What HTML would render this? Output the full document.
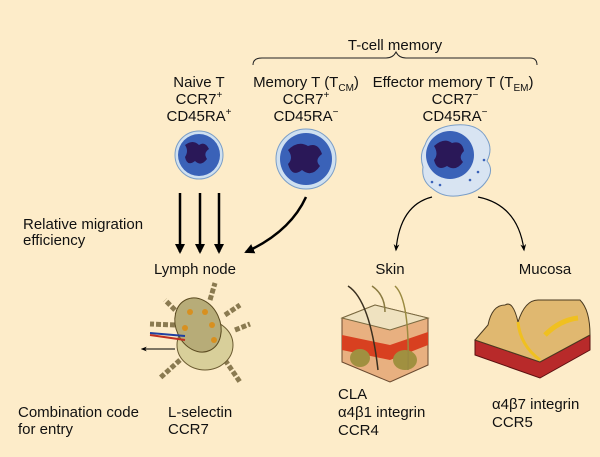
<!DOCTYPE html>
<html><head><meta charset="utf-8"><style>
html,body{margin:0;padding:0;background:#fdecc9;}
svg{display:block;font-family:"Liberation Sans",sans-serif;}
text{font-size:15px;fill:#111;}
</style></head><body>
<svg width="600" height="457" viewBox="0 0 600 457" xmlns="http://www.w3.org/2000/svg">
<defs>
<marker id="ah" viewBox="0 0 10 10" refX="8" refY="5" markerWidth="4" markerHeight="4" orient="auto"><path d="M0,0 L10,5 L0,10 z" fill="#000"/></marker>
<marker id="ah2" viewBox="0 0 10 10" refX="8" refY="5" markerWidth="6" markerHeight="6" orient="auto"><path d="M0,1 L10,5 L0,9 L3,5 z" fill="#000"/></marker>
</defs>
<rect width="600" height="457" fill="#fdecc9"/>
<text x="395" y="50" text-anchor="middle">T-cell memory</text>
<path d="M253,65 Q253,58 262,58 L386,58 Q393,58 396,52 Q399,58 406,58 L530,58 Q537,58 537,65" fill="none" stroke="#222" stroke-width="1"/>
<g text-anchor="middle">
<text x="199" y="87">Naive T</text>
<text x="199" y="104">CCR7<tspan font-size="10" dy="-6">+</tspan></text>
<text x="199" y="121">CD45RA<tspan font-size="10" dy="-6">+</tspan></text>
<text x="306" y="87">Memory T (T<tspan font-size="10" dy="4">CM</tspan><tspan dy="-4">)</tspan></text>
<text x="306" y="104">CCR7<tspan font-size="10" dy="-6">+</tspan></text>
<text x="306" y="121">CD45RA<tspan font-size="10" dy="-6">−</tspan></text>
<text x="453" y="87">Effector memory T (T<tspan font-size="10" dy="4">EM</tspan><tspan dy="-4">)</tspan></text>
<text x="455" y="104">CCR7<tspan font-size="10" dy="-6">−</tspan></text>
<text x="455" y="121">CD45RA<tspan font-size="10" dy="-6">−</tspan></text>
</g>
<!-- cells -->
<circle cx="199" cy="155" r="24" fill="#cfe0f0" stroke="#7a9ec8"/>
<circle cx="199" cy="155" r="21" fill="#3a62b8"/>
<path d="M185,145 q8,-6 14,0 q6,-4 10,4 q-6,4 -2,10 q-6,8 -12,2 q-8,6 -10,-4 q4,-6 0,-12z" fill="#2a1858"/>
<circle cx="306" cy="159" r="30" fill="#cfe0f0" stroke="#7a9ec8"/>
<circle cx="306" cy="159" r="26" fill="#3a62b8"/>
<path d="M288,150 q10,-10 20,-4 q10,-4 14,8 q-8,6 -2,12 q-8,12 -18,4 q-10,8 -14,-6 q6,-6 0,-14z" fill="#2a1858"/>
<path d="M425,145 q6,-18 30,-20 q24,-2 32,14 q6,10 0,22 q8,10 -2,22 q-8,10 -22,12 q-18,4 -30,-6 q-12,-8 -10,-22 q-4,-12 2,-22z" fill="#d8e4f2" stroke="#7a9ec8"/>
<circle cx="450" cy="155" r="24" fill="#3a62b8"/>
<path d="M434,146 q10,-9 18,-3 q10,-3 12,8 q-6,6 -1,11 q-7,10 -16,4 q-10,6 -13,-6 q5,-6 0,-14z" fill="#2a1858"/>
<g fill="#3a62b8"><circle cx="432" cy="182" r="1.3"/><circle cx="440" cy="185" r="1.3"/><circle cx="470" cy="180" r="1.3"/><circle cx="478" cy="172" r="1.3"/><circle cx="484" cy="160" r="1.3"/></g>
<!-- arrows -->
<g stroke="#000" stroke-width="2.5" fill="none">
<line x1="180" y1="193" x2="180" y2="252" marker-end="url(#ah)"/>
<line x1="200" y1="193" x2="200" y2="252" marker-end="url(#ah)"/>
<line x1="219" y1="193" x2="219" y2="252" marker-end="url(#ah)"/>
<path d="M306,197 Q290,232 246,252" marker-end="url(#ah)"/>
</g>
<g stroke="#000" stroke-width="1.2" fill="none">
<path d="M432,197 Q400,205 396,250" marker-end="url(#ah2)"/>
<path d="M478,197 Q518,205 524,250" marker-end="url(#ah2)"/>
</g>
<text x="23" y="229">Relative migration</text>
<text x="23" y="245">efficiency</text>
<text x="195" y="274" text-anchor="middle">Lymph node</text>
<text x="390" y="274" text-anchor="middle">Skin</text>
<text x="545" y="274" text-anchor="middle">Mucosa</text>
<!-- lymph node -->
<g stroke="#8a7a50" stroke-width="5" stroke-dasharray="5 2" fill="none">
<line x1="210" y1="300" x2="215" y2="283"/><line x1="180" y1="315" x2="165" y2="300"/><line x1="175" y1="325" x2="150" y2="324"/>
<line x1="235" y1="330" x2="250" y2="324"/><line x1="180" y1="360" x2="160" y2="378"/><line x1="225" y1="360" x2="240" y2="382"/><line x1="225" y1="315" x2="240" y2="305"/>
</g>
<ellipse cx="205" cy="345" rx="28" ry="25" fill="#d8cf9a" stroke="#6a5a30"/>
<ellipse cx="198" cy="325" rx="22" ry="28" fill="#b7ac78" stroke="#5a4a20" transform="rotate(-25 198 325)"/>
<g fill="#d89020"><circle cx="190" cy="312" r="3"/><circle cx="205" cy="312" r="3"/><circle cx="212" cy="325" r="3"/><circle cx="185" cy="328" r="3"/><circle cx="214" cy="340" r="3"/></g>
<path d="M150,335 L185,340" stroke="#c03020" stroke-width="2"/><path d="M150,333 L185,336" stroke="#2040a0" stroke-width="2"/>
<line x1="175" y1="349" x2="142" y2="349" stroke="#000" stroke-width="1" marker-end="url(#ah2)"/>
<!-- skin -->
<path d="M342,318 L375,305 L428,318 L428,365 L390,382 L342,362z" fill="#e8b080" stroke="#6a4a30"/>
<path d="M342,318 L375,305 L428,318 L390,330z" fill="#efe2c0" stroke="#7a6a40"/>
<path d="M342,335 L390,345 L428,332 L428,345 L390,360 L342,350z" fill="#d84020"/>
<ellipse cx="360" cy="358" rx="10" ry="9" fill="#a09040"/><ellipse cx="405" cy="360" rx="12" ry="10" fill="#a09040"/>
<path d="M348,286 Q370,300 378,370" stroke="#3a3020" stroke-width="1.5" fill="none"/>
<path d="M372,286 Q385,295 385,312" stroke="#8a7a40" stroke-width="1.5" fill="none"/>
<path d="M395,286 Q410,300 408,370" stroke="#9a8a40" stroke-width="1.5" fill="none"/>
<!-- mucosa -->
<path d="M475,340 L475,355 L540,378 L590,350 L590,335 L540,362z" fill="#b82a2a" stroke="#5a1010"/>
<path d="M475,340 L488,325 Q492,305 505,305 Q513,300 518,322 Q525,300 538,300 L580,300 Q590,310 590,335 L540,362z" fill="#e0b870" stroke="#4a3a20"/>
<path d="M545,335 Q560,320 578,318" stroke="#f0c020" stroke-width="5" fill="none"/>
<path d="M518,322 Q520,345 540,360" stroke="#f0c020" stroke-width="3" fill="none"/>
<text x="18" y="417">Combination code</text>
<text x="18" y="434">for entry</text>
<text x="168" y="417">L-selectin</text>
<text x="168" y="434">CCR7</text>
<text x="338" y="399">CLA</text>
<text x="338" y="417">α4β1 integrin</text>
<text x="338" y="435">CCR4</text>
<text x="492" y="409">α4β7 integrin</text>
<text x="492" y="427">CCR5</text>
</svg>
</body></html>
